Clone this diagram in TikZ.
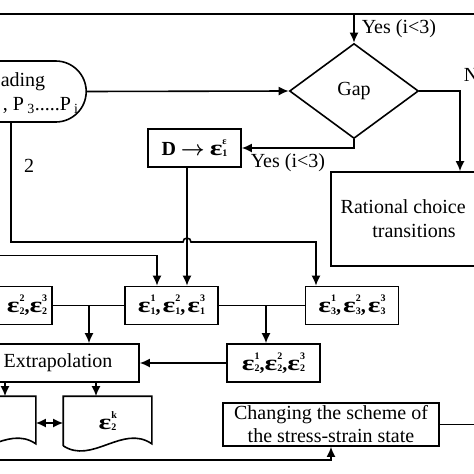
\documentclass[tikz,border=0pt]{standalone}
\usepackage{fontspec}
\setmainfont{Liberation Serif}
\usepackage{amsmath}
\usetikzlibrary{calc,positioning,arrows.meta,shapes.geometric,shapes.misc}

\newcommand{\epsv}[2]{\scalebox{1.35}[1]{\fontsize{22}{24}\selectfont ε}\rlap{\raisebox{11pt}{\fontsize{10}{10}\selectfont #2}}\raisebox{-1.5pt}{\fontsize{10}{10}\selectfont #1}}

\begin{document}
\begin{tikzpicture}[x=1pt,y=-1pt,line width=1.6pt,
    every node/.style={font=\fontsize{20}{24}\selectfont, inner sep=0pt},
    box/.style={draw, rectangle, minimum height=38pt},
    epsbox/.style={box, minimum width=93pt, font=\fontsize{20}{24}\selectfont\bfseries},
    arr/.style={-{Latex[length=10pt,width=9pt]}},
    darr/.style={{Latex[length=10pt,width=9pt]}-{Latex[length=10pt,width=9pt]}}]
        \useasboundingbox (0,0) rectangle (474,474);
        \clip (0,0) rectangle (474,474);

        % top part
        \node[draw, rounded rectangle, rounded rectangle left arc=none, minimum width=170pt, minimum height=61pt, anchor=east] (load) at (87,91.5) {};
        \node[anchor=base west, align=left] (loadtxt) at (0,110) {ading\\\hspace{2pt}, P\,\textsubscript{3}.....P\,\textsubscript{i}};
        \node[draw, diamond, minimum width=129pt, minimum height=95pt] (gap) at (354,91) {Gap};
        \node[anchor=west] (yes1) at (361,29) {Yes (i<3)};
        \node[anchor=west] (no) at (463,75) {N};
        \node[box, minimum width=93pt, font=\fontsize{20}{24}\selectfont\bfseries] (dbox) at (194.5,148) {D $\boldsymbol{\rightarrow}$ \epsv{1}{ε}};
        \node[anchor=west] (yes2) at (250,163) {Yes (i<3)};
        \node[box, minimum width=166pt, minimum height=94pt, align=center] (rat) at (414,219) {Rational choice\phantom{ of}\\transitions};
        \node (lbl2) at (29,166) {2};

        % strain boxes
        \node[epsbox] (eps1) at (171.5,305.5) {\epsv{1}{1},\hspace{2pt}\epsv{1}{2},\hspace{2pt}\epsv{1}{3}};
        \node[epsbox, minimum width=120pt, inner xsep=5pt, text width=110pt, align=right, anchor=east] (epsL) at (53,305.5) {\epsv{2}{2},\epsv{2}{3}};
        \node[epsbox] (eps3) at (352,305.5) {\epsv{3}{1},\hspace{2pt}\epsv{3}{2},\hspace{2pt}\epsv{3}{3}};
        \node[epsbox] (eps2) at (273.5,363) {\epsv{2}{1},\epsv{2}{2},\epsv{2}{3}};
        \node[box, minimum width=162pt] (extrap) at (58,363) {Extrapolation};

        % bottom part
        \node[minimum width=87pt, minimum height=48pt] (docL) at (-8.5,421) {};
        \node[minimum width=87pt, minimum height=48pt, font=\fontsize{20}{24}\selectfont\bfseries] (docR) at (107.5,421) {\epsv{2}{k}};
        \node[box, minimum width=216pt, minimum height=43pt, align=center, font=\fontsize{20}{23}\selectfont] (chg) at (331,424.5) {Changing the scheme of\\the stress-strain state};

        \draw (docL.south west) -- (docL.north west) -- (docL.north east) -- ($(docL.south east)+(0,-2)$) .. controls +(-29,-20) and +(29,19) .. (docL.south west);
        \draw (docR.south west) -- (docR.north west) -- (docR.north east) -- ($(docR.south east)+(0,-2)$) .. controls +(-29,-20) and +(29,19) .. (docR.south west);

        % connectors
        \coordinate (topL) at (-5,14);
        \coordinate (topR) at (480,14);
        \draw (topL) -- (topR);
        \draw[arr] (gap.north |- topL) -- (gap.north);
        \draw[arr] (load.east) -- (gap.west);
        \coordinate (noturn) at (460,91);
        \draw[arr] (gap.east) -- (noturn) -- (noturn |- rat.north);
        \draw[arr] (gap.south) -- (gap.south |- dbox.east) -- (dbox.east);

        \coordinate (busA) at (11,242);
        \coordinate (busAend) at (316,242);
        \draw[arr] (load.south -| busA) -- (busA) -- (183,242) arc[start angle=180, end angle=360, radius=4] -- (busAend) -- (busAend |- eps3.north);
        \draw[arr] ([xshift=-7.5pt]dbox.south) -- ([xshift=-7.5pt]dbox.south |- eps1.north);
        \coordinate (busB) at (-5,255.5);
        \coordinate (busBend) at (157,255.5);
        \draw[arr] (busB) -- (busBend) -- (busBend |- eps1.north);

        \coordinate (jL) at (89,305.5);
        \coordinate (jR) at (266,305.5);
        \draw (epsL.east) -- (eps1.west);
        \draw[arr] (jL) -- (jL |- extrap.north);
        \draw (eps1.east) -- (eps3.west);
        \draw[arr] (jR) -- (jR |- eps2.north);
        \draw[arr] (eps2.west) -- (extrap.east);

        \coordinate (dl) at (5,0);
        \coordinate (dr) at (96,0);
        \draw[arr] (extrap.south -| dl) -- (docL.north -| dl);
        \draw[arr] (extrap.south -| dr) -- (docR.north -| dr);
        \draw[darr] ([yshift=-2pt]docL.east) -- ([yshift=-2pt]docR.west);

        \coordinate (rEdge) at (480,0);
        \draw (chg.east) -- (chg.east -| rEdge);
        \coordinate (busC) at (-5,460);
        \draw[arr] (busC) -- (busC -| chg.south) -- (chg.south);
    \end{tikzpicture}
\end{document}
